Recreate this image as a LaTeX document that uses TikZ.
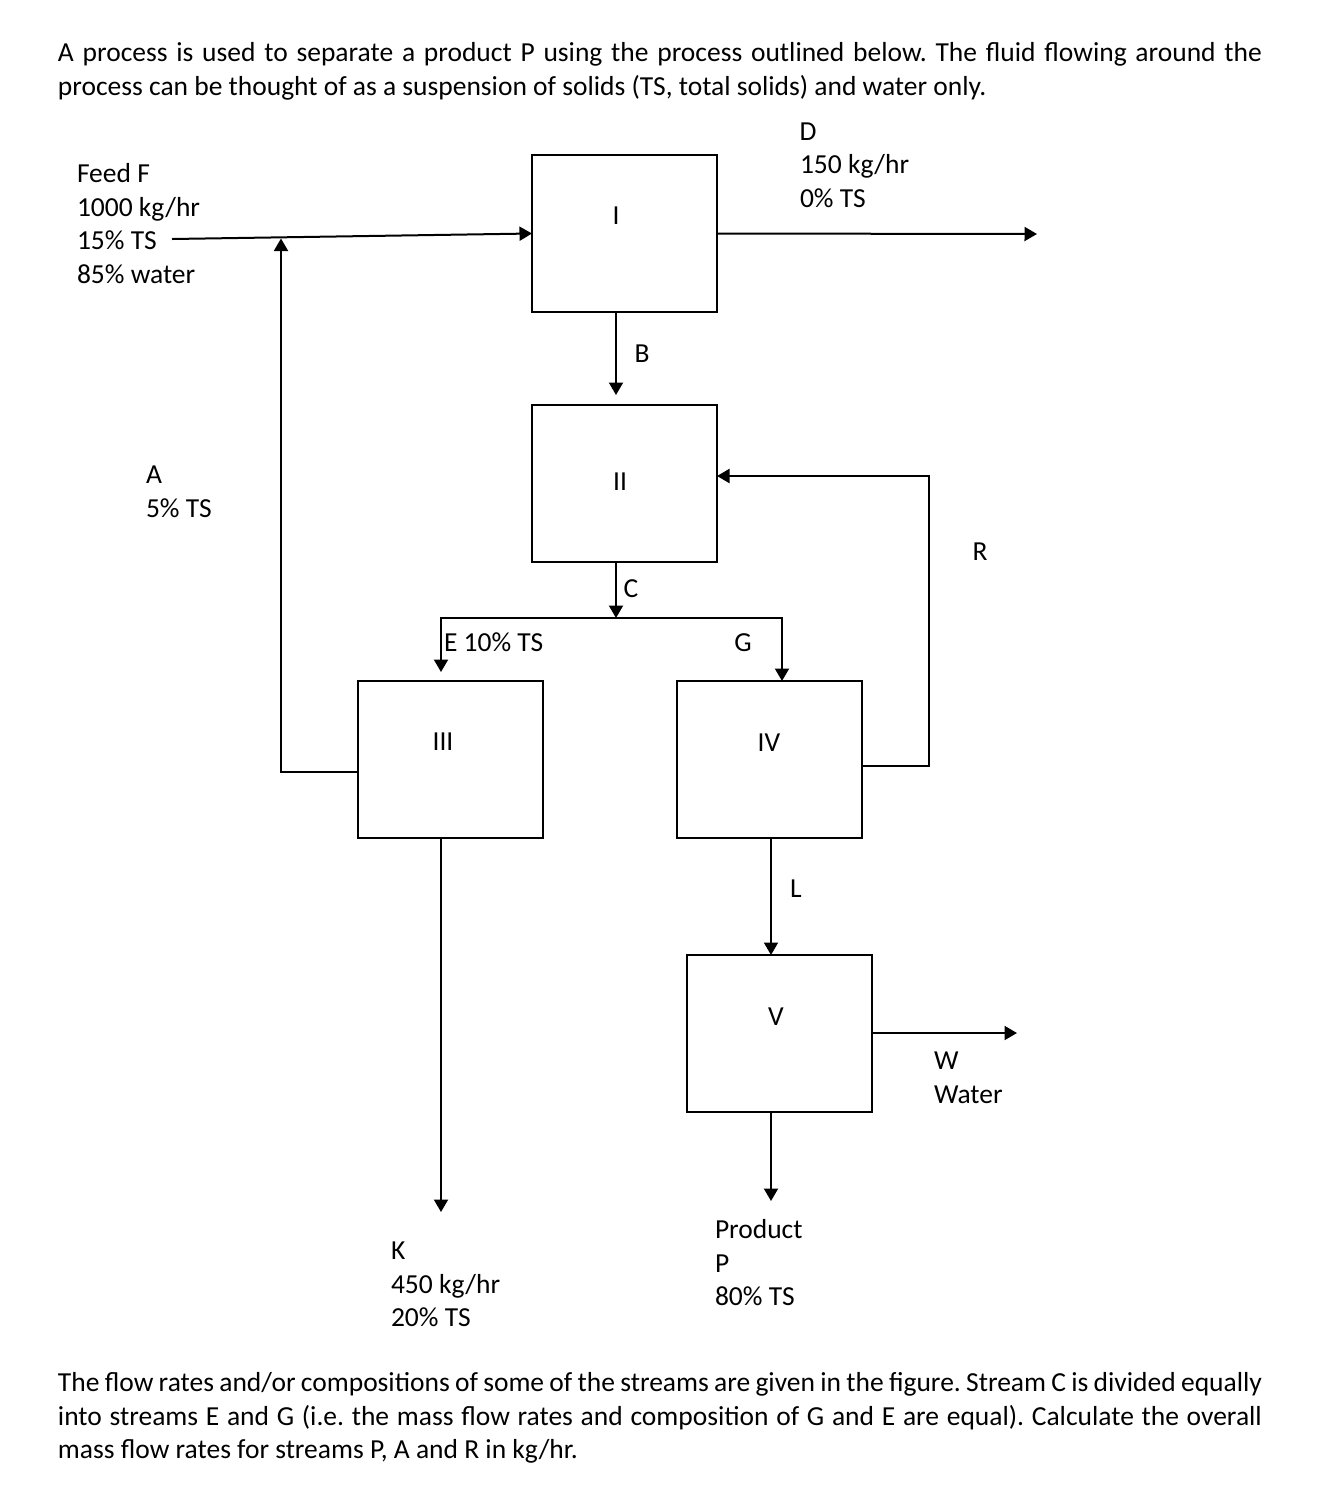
\documentclass[tikz,border=0pt]{standalone}
\usepackage{fontspec}
\setmainfont{Carlito}
\usetikzlibrary{arrows.meta}
\frenchspacing
\begin{document}
\begin{tikzpicture}[x=0.4pt,y=-0.4pt,
 every node/.style={font=\fontsize{11}{13.6}\selectfont, inner sep=0pt, outer sep=0pt},
 unit/.style={draw, line width=0.8pt, minimum width=74pt, minimum height=62.8pt},
 txt/.style={anchor=base west},
 ctr/.style={anchor=base},
 flow/.style={line width=0.8pt, -{Triangle[length=5pt,width=5.6pt]}}]
\useasboundingbox (0,0) rectangle (1340,1508);
% paragraphs
\node[txt] (t1) at (58,61) {\makebox[481.6pt][s]{A process is used to separate a product P using the process outlined below. The fluid flowing around the}};
\node[txt] (t2) at (58,95) {process can be thought of as a suspension of solids (TS, total solids) and water only.};
\node[txt] (b1) at (58,1391) {\makebox[481.6pt][s]{The flow rates and/or compositions of some of the streams are given in the figure. Stream C is divided equally}};
\node[txt] (b2) at (58,1425) {\makebox[481.6pt][s]{into streams E and G (i.e. the mass flow rates and composition of G and E are equal). Calculate the overall}};
\node[txt] (b3) at (58,1458) {mass flow rates for streams P, A and R in kg/hr.};
% units
\node[unit] (I) at (624.5,233.5) {};
\node[unit] (II) at (624.5,483) {};
\node[unit] (III) at (450.5,759.5) {};
\node[unit] (IV) at (769.5,759.5) {};
\node[unit] (V) at (779.5,1033.5) {};
\node[ctr] (lI) at (616,224) {I};
\node[ctr] (lII) at (620,490) {II};
\node[ctr] (lIII) at (443,750) {III};
\node[ctr] (lIV) at (769,751) {IV};
\node[ctr] (lV) at (776,1025) {V};
% stream labels
\node[txt] (f1) at (77,182) {Feed F};
\node[txt] (f2) at (77,216) {1000 kg/hr};
\node[txt] (f3) at (77,249.5) {15\% TS};
\node[txt] (f4) at (77,283) {85\% water};
\node[ctr] (d1) at (808,140) {D};
\node[txt] (d2) at (800,173) {150 kg/hr};
\node[txt] (d3) at (800,207) {0\% TS};
\node[ctr] (lb) at (642,362) {B};
\node[ctr] (lc) at (631,597) {C};
\node[txt] (le) at (444,651) {E 10\% TS};
\node[ctr] (lg) at (743,651) {G};
\node[txt] (la1) at (146,483) {A};
\node[txt] (la2) at (146,517) {5\% TS};
\node[ctr] (lr) at (980,560) {R};
\node[txt] (k1) at (391,1259) {K};
\node[txt] (k2) at (391,1293) {450 kg/hr};
\node[txt] (k3) at (391,1326) {20\% TS};
\node[ctr] (ll) at (796,897) {L};
\node[txt] (w1) at (934,1069) {W};
\node[txt] (w2) at (934,1103) {Water};
\node[txt] (p1) at (715,1238) {Product};
\node[txt] (p2) at (715,1272) {P};
\node[txt] (p3) at (715,1305) {80\% TS};
% coordinates
\coordinate (feedstart) at (172,239);
\coordinate (ajoin) at (281,238.5);
\coordinate (ay) at (0,772);
\coordinate (dend) at (1037,234);
\coordinate (Bend) at (616,395);
\coordinate (split) at (616,618);
\coordinate (Eend) at (441,672);
\coordinate (gx) at (782,0);
\coordinate (Rtop) at (929,476);
\coordinate (Rbot) at (929,766);
\coordinate (Kend) at (441,1212);
\coordinate (Lx) at (771,0);
\coordinate (Wend) at (1017,1033);
\coordinate (Pend) at (771,1201);
% connectors
\draw[flow] (feedstart) -- (I.west);
\draw[flow] (III.west |- ay) -| (ajoin);
\draw[flow] (I.east) -- (dend);
\draw[flow] (I.south -| Bend) -- (Bend);
\draw[flow] (II.south -| split) -- (split);
\draw[flow] (split) -| (Eend);
\draw[flow] (split) -| (IV.north -| gx);
\draw[flow] (IV.east |- Rbot) -- (Rbot) -- (Rtop) -- (II.east |- Rtop);
\draw[flow] (III.south -| Kend) -- (Kend);
\draw[flow] (IV.south -| Lx) -- (V.north -| Lx);
\draw[flow] (V.east |- Wend) -- (Wend);
\draw[flow] (V.south -| Pend) -- (Pend);
\end{tikzpicture}
\end{document}
